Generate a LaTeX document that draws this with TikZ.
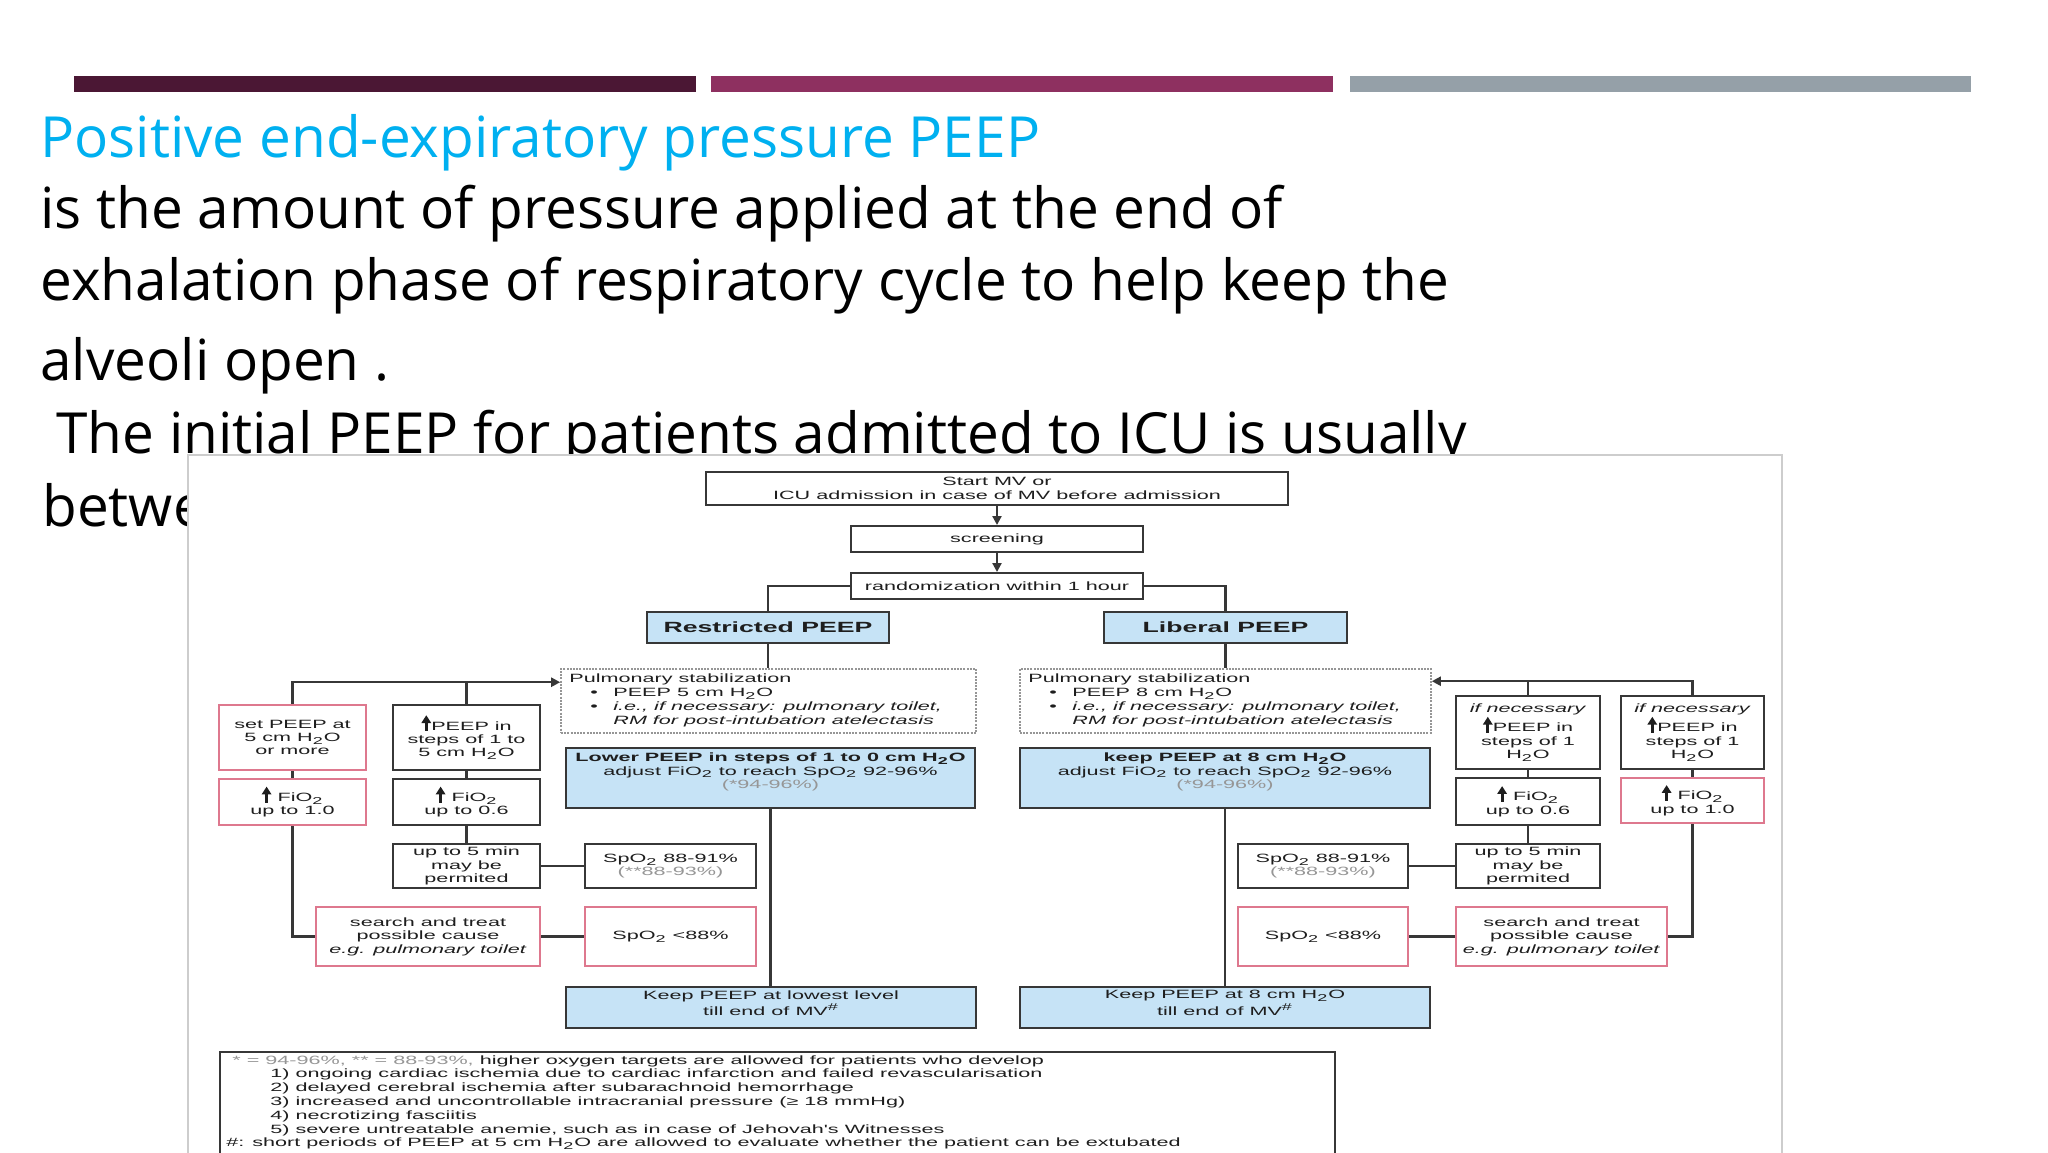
\documentclass[tikz,border=0pt]{standalone}
\usepackage{fontspec}
\setmainfont{Open Sans}
\newfontfamily\flowfont[FakeStretch=1.8]{Liberation Sans}
\usetikzlibrary{arrows.meta,calc}
\definecolor{barA}{RGB}{75,23,52}
\definecolor{barB}{RGB}{142,48,96}
\definecolor{barC}{RGB}{149,160,168}
\definecolor{titlecyan}{RGB}{0,176,240}
\definecolor{boxblue}{RGB}{198,227,246}
\definecolor{boxdark}{RGB}{55,55,55}
\definecolor{boxpink}{RGB}{222,120,142}
\definecolor{txtdark}{RGB}{30,30,30}
\definecolor{txtgray}{RGB}{150,150,150}
\definecolor{framegray}{RGB}{205,205,205}
\definecolor{dotgray}{RGB}{150,150,150}
\newcommand\ftxt{\flowfont\fontsize{6}{6.7}\selectfont}
\newcommand\upa{\tikz[baseline=0pt]{\fill[txtdark] (-0.7pt,-0.6pt) rectangle (0.7pt,4pt); \fill[txtdark] (-2.5pt,3.5pt) -- (2.5pt,3.5pt) -- (0pt,7.4pt) -- cycle;}}
\begin{document}
\begin{tikzpicture}[x=0.5pt,y=-0.5pt,
  flowbox/.style={draw=boxdark, line width=1pt, inner sep=0pt, align=center, font=\ftxt, text=txtdark},
  pinkbox/.style={flowbox, draw=boxpink},
  bluebox/.style={flowbox, fill=boxblue},
  flowtext/.style={inner sep=0pt, align=center, font=\ftxt, text=txtdark},
  conn/.style={draw=boxdark, line width=1.1pt},
  arr/.style={conn, -{Triangle[length=4.5pt,width=4.5pt]}},
  slidetext/.style={anchor=base west, inner sep=0pt, font=\fontsize{28.35}{34}\selectfont, text=black}]
\useasboundingbox (0,0) rectangle (2048,1152);
\fill[white] (0,0) rectangle (2048,1152);
% top bars
\fill[barA] (74,76) rectangle (696,92);
\fill[barB] (711,76) rectangle (1333,92);
\fill[barC] (1350,76) rectangle (1971,92);
% slide text
\node[slidetext, text=titlecyan] (title) at (40,157) {Positive end-expiratory pressure PEEP};
\node[slidetext] (l1) at (40,228) {is the amount of pressure applied at the end of};
\node[slidetext] (l2) at (40,300) {exhalation phase of respiratory cycle to help keep the};
\node[slidetext] (l3) at (40,380) {alveoli open .};
\node[slidetext] (l4) at (56,453) {The initial PEEP for patients admitted to ICU is usually};
\node[slidetext] (l5) at (42,526) {betwe};
% inset
\filldraw[fill=white, draw=framegray, line width=1pt] (188,455) rectangle (1782,1170);
\begin{scope}
\clip (188,455) rectangle (1782,1152);
\node[flowbox, minimum width=291pt, minimum height=16.5pt] (start) at (997,488.5) {Start MV or\\ICU admission in case of MV before admission};
\node[flowbox, minimum width=146pt, minimum height=13pt] (screen) at (997,539) {screening};
\node[flowbox, minimum width=146pt, minimum height=13pt] (rand) at (997,586) {randomization within 1 hour};
\node[bluebox, minimum width=121pt, minimum height=15.5pt, font=\flowfont\fontsize{7.4}{8}\selectfont\bfseries] (restr) at (768,627.5) {Restricted PEEP};
\node[bluebox, minimum width=121.5pt, minimum height=15.5pt, font=\flowfont\fontsize{7.4}{8}\selectfont\bfseries] (lib) at (1225.5,627.5) {Liberal PEEP};
% pulmonary stabilization
\node[flowbox, draw=dotgray, line width=0.8pt, dash pattern=on 1pt off 0.6pt, minimum width=207.5pt, minimum height=32pt] (pulmL) at (768.5,701) {};
\node[anchor=north west, inner sep=0pt, align=left, font=\flowfont\fontsize{6}{7.1}\selectfont, text=txtdark] (pulmLt) at (569,673) {Pulmonary stabilization\\
\makebox[22pt][l]{\hspace{10.5pt}\textbullet}PEEP 5 cm H\textsubscript{2}O\\
\makebox[22pt][l]{\hspace{10.5pt}\textbullet}\textit{i.e., if necessary: pulmonary toilet,}\\
\hspace*{22pt}\textit{RM for post-intubation atelectasis}};
\node[flowbox, draw=dotgray, line width=0.8pt, dash pattern=on 1pt off 0.6pt, minimum width=205.5pt, minimum height=32pt] (pulmR) at (1225.5,701) {};
\node[anchor=north west, inner sep=0pt, align=left, font=\flowfont\fontsize{6}{7.1}\selectfont, text=txtdark] (pulmRt) at (1028,673) {Pulmonary stabilization\\
\makebox[22pt][l]{\hspace{10.5pt}\textbullet}PEEP 8 cm H\textsubscript{2}O\\
\makebox[22pt][l]{\hspace{10.5pt}\textbullet}\textit{i.e., if necessary: pulmonary toilet,}\\
\hspace*{22pt}\textit{RM for post-intubation atelectasis}};
% blue main boxes
\node[bluebox, minimum width=204.5pt, minimum height=30pt] (lowerL) at (770.5,778) {};
\node[flowtext] (lowerLt) at (770.5,772) {\textbf{Lower PEEP in steps of 1 to 0 cm H\textsubscript{2}O}\\adjust FiO\textsubscript{2} to reach SpO\textsubscript{2} 92-96\%\\\textcolor{txtgray}{(*94-96\%)}};
\node[bluebox, minimum width=205pt, minimum height=30pt] (keepR) at (1225,778) {};
\node[flowtext] (keepRt) at (1225,772) {\textbf{keep PEEP at 8 cm H\textsubscript{2}O}\\adjust FiO\textsubscript{2} to reach SpO\textsubscript{2} 92-96\%\\\textcolor{txtgray}{(*94-96\%)}};
\node[bluebox, minimum width=205pt, minimum height=20.5pt] (endL) at (771,1007.5) {};
\node[flowtext] (endLt) at (771,1003) {Keep PEEP at lowest level\\till end of MV\textsuperscript{\#}};
\node[bluebox, minimum width=205pt, minimum height=20.5pt] (endR) at (1225,1007.5) {};
\node[flowtext] (endRt) at (1225,1003) {Keep PEEP at 8 cm H\textsubscript{2}O\\till end of MV\textsuperscript{\#}};
% left columns
\node[pinkbox, minimum width=73.5pt, minimum height=32.5pt] (setL) at (292.5,737.5) {set PEEP at\\5 cm H\textsubscript{2}O\\or more};
\node[pinkbox, minimum width=73.5pt, minimum height=23pt] (fioL1) at (292.5,802) {\upa\ FiO\textsubscript{2}\\up to 1.0};
\node[flowbox, minimum width=73.5pt, minimum height=32.5pt] (stepL) at (466.5,737.5) {\upa PEEP in\\steps of 1 to\\5 cm H\textsubscript{2}O};
\node[flowbox, minimum width=73.5pt, minimum height=23pt] (fioL2) at (466.5,802) {\upa\ FiO\textsubscript{2}\\up to 0.6};
\node[flowbox, minimum width=73.5pt, minimum height=22pt] (minL) at (466.5,866) {up to 5 min\\may be\\permited};
\node[flowbox, minimum width=85.5pt, minimum height=22pt] (spoL) at (670.5,866) {SpO\textsubscript{2} 88-91\%\\\textcolor{txtgray}{(**88-93\%)}};
\node[pinkbox, minimum width=112pt, minimum height=29.5pt] (searchL) at (428,936.5) {search and treat\\possible cause\\\textit{e.g. pulmonary toilet}};
\node[pinkbox, minimum width=85.5pt, minimum height=29.5pt] (spLowL) at (670.5,936.5) {SpO\textsubscript{2} <88\%};
% right columns
\node[flowbox, minimum width=72pt, minimum height=36.5pt] (stepR1) at (1528,732.5) {\textit{if necessary}\\\upa PEEP in\\steps of 1\\H\textsubscript{2}O};
\node[flowbox, minimum width=71.5pt, minimum height=36.5pt] (stepR2) at (1692.5,732.5) {\textit{if necessary}\\\upa PEEP in\\steps of 1\\H\textsubscript{2}O};
\node[flowbox, minimum width=72pt, minimum height=23.5pt] (fioR1) at (1528,801.5) {\upa\ FiO\textsubscript{2}\\up to 0.6};
\node[pinkbox, minimum width=71.5pt, minimum height=22.5pt] (fioR2) at (1692.5,800.5) {\upa\ FiO\textsubscript{2}\\up to 1.0};
\node[flowbox, minimum width=72pt, minimum height=22pt] (minR) at (1528,866) {up to 5 min\\may be\\permited};
\node[flowbox, minimum width=85pt, minimum height=22pt] (spoR) at (1323,866) {SpO\textsubscript{2} 88-91\%\\\textcolor{txtgray}{(**88-93\%)}};
\node[pinkbox, minimum width=85pt, minimum height=29.5pt] (spLowR) at (1323,936.5) {SpO\textsubscript{2} <88\%};
\node[pinkbox, minimum width=105.5pt, minimum height=29.5pt] (searchR) at (1561.5,936.5) {search and treat\\possible cause\\\textit{e.g. pulmonary toilet}};
% connectors
\draw[arr] (start) -- (screen);
\draw[arr] (screen) -- (rand);
\draw[conn] (rand.west) -| (restr.north);
\draw[conn] (rand.east) -| (lib.north);
\draw[conn] (restr.south) -- (restr.south |- pulmL.north);
\draw[conn] (lib.south) -- (lib.south |- pulmR.north);
\draw[conn] (lowerL.south) -- (lowerL.south |- endL.north);
\draw[conn] (keepR.south) -- (keepR.south |- endR.north);
\coordinate (aL) at ($(pulmL.north west)+(0,14)$);
\draw[arr] (setL.north) |- (aL);
\draw[conn] (stepL.north) -- (stepL.north |- aL);
\draw[conn] (setL) -- (fioL1);
\draw[conn] (stepL) -- (fioL2);
\draw[conn] (fioL2) -- (minL);
\draw[conn] (fioL1.south) |- (searchL.west);
\draw[conn] (minL) -- (spoL);
\draw[conn] (searchL) -- (spLowL);
\coordinate (aR) at ($(pulmR.north east)+(0,13)$);
\draw[arr] (stepR2.north) |- (aR);
\draw[conn] (stepR1.north) -- (stepR1.north |- aR);
\draw[conn] (stepR1) -- (fioR1);
\draw[conn] (stepR2) -- (fioR2);
\draw[conn] (fioR1) -- (minR);
\draw[conn] (fioR2.south) |- (searchR.east);
\draw[conn] (minR) -- (spoR);
\draw[conn] (searchR) -- (spLowR);
% footnote
\node[draw=boxdark, line width=1pt, minimum width=557.5pt, minimum height=60pt, anchor=north west, inner sep=0pt] (foot) at (219,1051) {};
\node[anchor=north west, inner sep=0pt, align=left, font=\flowfont\fontsize{6}{6.9}\selectfont, text=txtdark] (foott) at (226,1055) {\hspace*{3pt}\textcolor{txtgray}{* = 94-96\%, ** = 88-93\%,} higher oxygen targets are allowed for patients who develop\\
\hspace*{22pt}1) ongoing cardiac ischemia due to cardiac infarction and failed revascularisation\\
\hspace*{22pt}2) delayed cerebral ischemia after subarachnoid hemorrhage\\
\hspace*{22pt}3) increased and uncontrollable intracranial pressure (≥ 18 mmHg)\\
\hspace*{22pt}4) necrotizing fasciitis\\
\hspace*{22pt}5) severe untreatable anemie, such as in case of Jehovah's Witnesses\\
\#: short periods of PEEP at 5 cm H\textsubscript{2}O are allowed to evaluate whether the patient can be extubated};
\end{scope}
\end{tikzpicture}
\end{document}
